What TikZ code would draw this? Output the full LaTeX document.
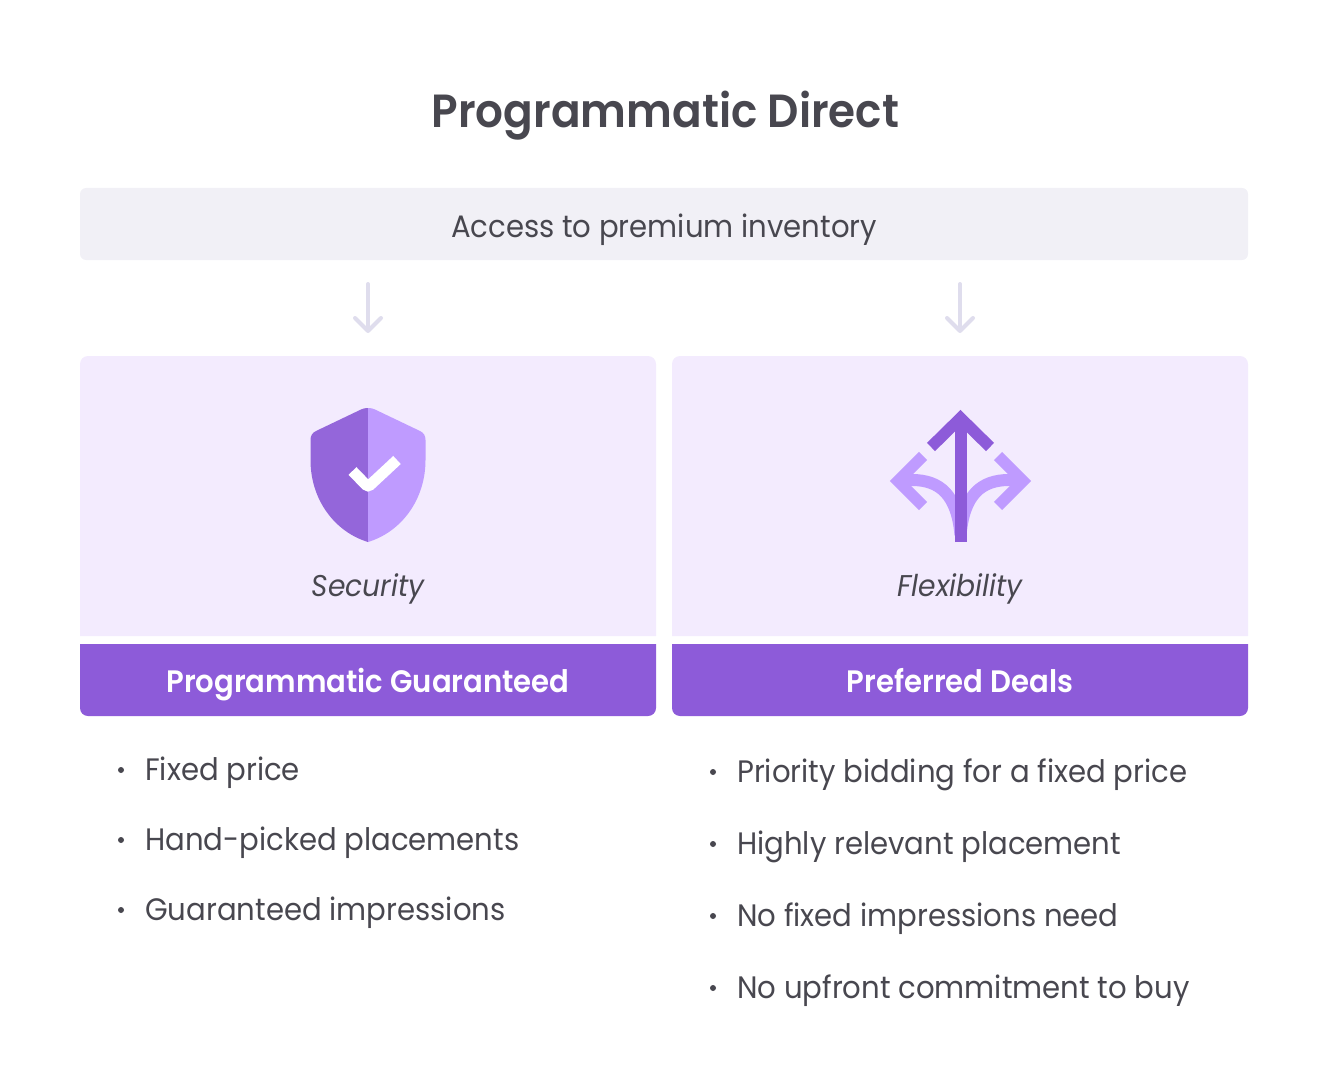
\documentclass[tikz,border=0pt]{standalone}
\usepackage{fontspec}
\setmainfont{Poppins}[FakeStretch=0.94, BoldFont={Poppins SemiBold}]
\usetikzlibrary{arrows.meta}
\definecolor{inkgray}{HTML}{48474F}
\definecolor{barfill}{HTML}{F1F0F6}
\definecolor{arrowgray}{HTML}{DFDDED}
\definecolor{palelilac}{HTML}{F3EBFE}
\definecolor{deeppurple}{HTML}{8D5BD9}
\definecolor{midpurple}{HTML}{9466DA}
\definecolor{softpurple}{HTML}{BF9BFF}
\tikzset{
  label text/.style={inkgray, font=\fontsize{31}{36}\selectfont, inner sep=0pt, anchor=base},
  bullet text/.style={label text, anchor=base west},
  bullet dot/.style={circle, fill=inkgray, inner sep=0pt, minimum size=6pt},
  head text/.style={white, font=\fontsize{31}{36}\selectfont\bfseries, inner sep=0pt, anchor=base},
  icon text/.style={inkgray, font=\fontsize{30}{36}\selectfont\itshape, inner sep=0pt, anchor=base},
  flow arrow/.style={arrowgray, line width=4pt, line cap=round, -{Straight Barb[length=13pt, width=26pt, round]}},
}
\begin{document}
\begin{tikzpicture}[x=1pt, y=-1pt]%{{{
\useasboundingbox (0,0) rectangle (1328,1086);
%
% Title and top bar
\node [inkgray, inner sep=0pt, anchor=base, font=\fontsize{46.5}{52}\selectfont\bfseries] (title) at (665.5,128) {Programmatic Direct};
\path [fill=barfill, rounded corners=6pt] (80,188) rectangle (1248,260);
\node [label text] (access) at (664,237) {Access to premium inventory};
%
% Arrows
\coordinate (leftstart) at (368,284);
\coordinate (leftend) at (368,333);
\coordinate (rightstart) at (960,284);
\coordinate (rightend) at (960,333);
\draw [flow arrow] (leftstart) -- (leftend);
\draw [flow arrow] (rightstart) -- (rightend);
%
% Panels
\foreach \x in {80, 672} {
  \path [fill=palelilac] (\x,636) -- ++(576,0) [rounded corners=8pt] -- ++(0,-280) -- ++(-576,0) [sharp corners] -- cycle;
  \path [fill=deeppurple] (\x,644) -- ++(576,0) [rounded corners=8pt] -- ++(0,72) -- ++(-576,0) [sharp corners] -- cycle;
}
\node [icon text] (security) at (368,596) {Security};
\node [icon text] (flexibility) at (960,596) {Flexibility};
\node [head text] (guaranteed) at (368,692) {Programmatic Guaranteed};
\node [head text] (preferred) at (960,692) {Preferred Deals};
%
% Shield
\fill [midpurple] (368,408) .. controls (365,408) and (363,408.5) .. (361,409.5)
   -- (316,431) .. controls (312,433) and (310.5,436) .. (310.5,440)
   -- (310.5,460) .. controls (310.5,500) and (335,532) .. (368,542) -- cycle;
\fill [softpurple] (368,408) .. controls (371,408) and (373,408.5) .. (375,409.5)
   -- (420,431) .. controls (424,433) and (425.5,436) .. (425.5,440)
   -- (425.5,460) .. controls (425.5,500) and (401,532) .. (368,542) -- cycle;
\draw [white, line width=11pt, rounded corners=3pt] (352.5,471) -- (368,487) -- (397,460);
%
% Fork
\begin{scope}[softpurple, line width=12pt]
  \draw (900,480) -- (912,480) .. controls (940,480) and (957,495) .. (960.5,535);
  \draw (1021,480) -- (1009,480) .. controls (981,480) and (964,495) .. (960.5,535);
  \draw [line width=11.5pt] (923,456) -- (898,481) -- (923,506);
  \draw [line width=11.5pt] (998,456) -- (1023,481) -- (998,506);
\end{scope}
\begin{scope}[deeppurple]
  \draw [line width=12pt] (960.5,542) -- (960.5,420);
  \draw [line width=11.5pt] (931,447) -- (960.5,418) -- (990,447);
\end{scope}
%
% Lists
\foreach \y/\txt/\name in {780/Fixed price/a, 850/Hand-picked placements/b, 920/Guaranteed impressions/c} {
  \node [bullet dot] (ldot\name) at (121,\y-10) {};
  \node [bullet text] (ltext\name) at (145,\y) {\txt};
}
\foreach \y/\txt/\name in {782/Priority bidding for a fixed price/a, 854/Highly relevant placement/b, 926/No fixed impressions need/c, 998/No upfront commitment to buy/d} {
  \node [bullet dot] (rdot\name) at (713,\y-10) {};
  \node [bullet text] (rtext\name) at (737,\y) {\txt};
}
%
\end{tikzpicture}
\end{document}
